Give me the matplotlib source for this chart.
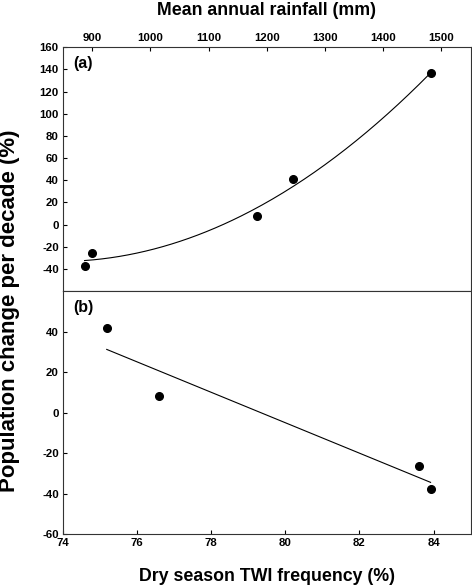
import numpy as np
import matplotlib.pyplot as plt

plt.rcParams['font.family'] = ['Liberation Sans', 'DejaVu Sans']
plt.rcParams['font.weight'] = 'bold'
plt.rcParams['axes.unicode_minus'] = False

# panel (a): mean annual rainfall vs population change
rainfall = [887, 900, 1184, 1245, 1482]
changeA = [-37.5, -26, 8, 41.5, 136.5]
# panel (b): dry season TWI frequency vs population change
twi = [75.18, 76.59, 83.62, 83.92]
changeB = [41.5, 8, -26.5, -38]

fig = plt.figure(figsize=(4.72, 5.86), dpi=100)
axA = fig.add_axes([0.1335, 0.5034, 0.8635, 0.4159])
axB = fig.add_axes([0.1335, 0.0887, 0.8635, 0.4147])

tsize = 8.2

# (a) quadratic fit
cA = np.polyfit(rainfall, changeA, 2)
xa = np.linspace(min(rainfall), max(rainfall), 200)
axA.plot(xa, np.polyval(cA, xa), color='black', lw=0.8)
axA.plot(rainfall, changeA, 'o', color='black', ms=5.5)
axA.set_xlim(850, 1550)
axA.set_ylim(-60, 160)
axA.set_xticks(range(900, 1501, 100))
axA.set_yticks(range(-40, 161, 20))
axA.xaxis.tick_top()
axA.xaxis.set_label_position('top')
axA.tick_params(axis='both', direction='in', length=3, width=0.8, pad=3,
                top=True, bottom=False, right=False, labelsize=tsize)
axA.set_xlabel('Mean annual rainfall (mm)', fontsize=12.8, fontweight='bold', labelpad=13)
axA.text(0.024, 0.965, '(a)', transform=axA.transAxes, fontsize=11.5, fontweight='bold',
         va='top', ha='left')

# (b) linear fit
cB = np.polyfit(twi, changeB, 1)
xb = np.linspace(min(twi), max(twi), 50)
axB.plot(xb, np.polyval(cB, xb), color='black', lw=0.8)
axB.plot(twi, changeB, 'o', color='black', ms=5.5)
axB.set_xlim(74, 85)
axB.set_ylim(-60, 60)
axB.set_xticks(range(74, 85, 2))
axB.set_yticks(range(-60, 41, 20))
axB.tick_params(axis='both', direction='in', length=3, width=0.8, pad=3,
                top=False, right=False, labelsize=tsize)
axB.set_xlabel('Dry season TWI frequency (%)', fontsize=12.8, fontweight='bold', labelpad=14)
axB.text(0.024, 0.965, '(b)', transform=axB.transAxes, fontsize=11.5, fontweight='bold',
         va='top', ha='left')

for ax in (axA, axB):
    for s in ax.spines.values():
        s.set_linewidth(0.8)
        s.set_color('#333333')
    for lab in ax.get_xticklabels() + ax.get_yticklabels():
        lab.set_fontweight('bold')

fig.text(0.02, 0.47, 'Population change per decade (%)', rotation=90,
         fontsize=16, fontweight='bold', va='center', ha='center')

fig.savefig('out.png', dpi=100)
